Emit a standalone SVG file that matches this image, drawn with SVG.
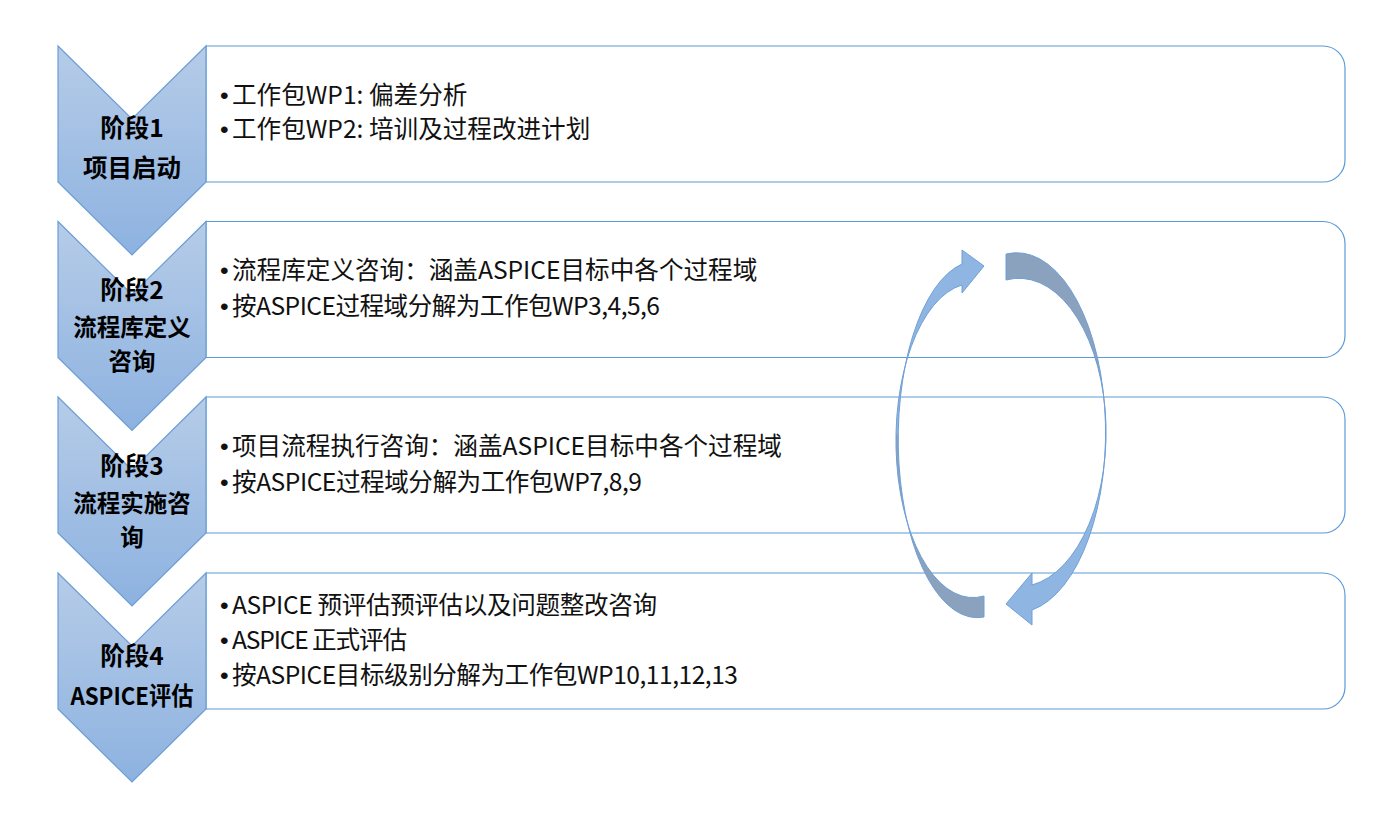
<svg xmlns="http://www.w3.org/2000/svg" width="1387" height="815" viewBox="0 0 1387 815">
  <style>
    .box { fill: #ffffff; stroke: #5b9bd5; stroke-width: 1.2; }
    .chev { fill: url(#chevGrad); stroke: #6a9ed6; stroke-width: 1.2; }
    .title { font-family: "Noto Sans CJK SC", "Noto Sans", sans-serif; font-size: 24.5px; font-weight: bold; fill: #000000; text-anchor: middle; }
    .wrap { font-size: 23.5px; }
    .item { font-family: "Noto Sans CJK SC", "Noto Sans", sans-serif; font-size: 24.6px; fill: #111111; }
    .b { font-family: "Liberation Sans", Arial, sans-serif; font-size: 24.6px; fill: #111111; }
    .arc { stroke: #6f9fd6; stroke-width: 1; }
  </style>
  <defs>
    <linearGradient id="chevGrad" x1="0" y1="0" x2="0" y2="1">
      <stop offset="0" stop-color="#b6cce8"/>
      <stop offset="1" stop-color="#8db2e0"/>
    </linearGradient>
    <linearGradient id="leftArcGrad" gradientUnits="userSpaceOnUse" x1="0" y1="250" x2="0" y2="620">
      <stop offset="0" stop-color="#8fb6e2"/>
      <stop offset="0.5" stop-color="#8fb6e2"/>
      <stop offset="0.5" stop-color="#8aa2bd"/>
      <stop offset="1" stop-color="#8aa2bd"/>
    </linearGradient>
    <linearGradient id="rightArcGrad" gradientUnits="userSpaceOnUse" x1="0" y1="250" x2="0" y2="630">
      <stop offset="0" stop-color="#8aa2bd"/>
      <stop offset="0.5" stop-color="#8aa2bd"/>
      <stop offset="0.5" stop-color="#8fb6e2"/>
      <stop offset="1" stop-color="#8fb6e2"/>
    </linearGradient>
    <path id="boxShape" d="M206,46 H1323 A22,22 0 0 1 1345,68 V160 A22,22 0 0 1 1323,182 H206 Z"/>
    <path id="chevShape" d="M58,46 L132,119 L206,46 L206,182 L132,255 L58,182 Z"/>
  </defs>

  <g id="stage1">
    <use href="#boxShape" class="box"/>
    <use href="#chevShape" class="chev"/>
    <text class="title" x="132" y="137">阶段1</text>
    <text class="title" x="132" y="177">项目启动</text>
    <text class="b" x="220" y="104">•</text>
    <text class="item" x="232" y="104">工作包WP1: 偏差分析</text>
    <text class="b" x="220" y="138">•</text>
    <text class="item" x="232" y="138">工作包WP2: 培训及过程改进计划</text>
  </g>

  <g id="stage2" transform="translate(0,175.5)">
    <use href="#boxShape" class="box"/>
    <use href="#chevShape" class="chev"/>
    <text class="title" x="132" y="123">阶段2</text>
    <text class="title wrap" x="132" y="160">流程库定义</text>
    <text class="title wrap" x="132" y="194">咨询</text>
    <text class="b" x="220" y="103.5">•</text>
    <text class="item" x="232" y="103.5">流程库定义咨询：涵盖ASPICE目标中各个过程域</text>
    <text class="b" x="220" y="139.5">•</text>
    <text class="item" x="232" y="139.5" textLength="428" lengthAdjust="spacing">按ASPICE过程域分解为工作包WP3,4,5,6</text>
  </g>

  <g id="stage3" transform="translate(0,351)">
    <use href="#boxShape" class="box"/>
    <use href="#chevShape" class="chev"/>
    <text class="title" x="132" y="123.5">阶段3</text>
    <text class="title wrap" x="132" y="160.5">流程实施咨</text>
    <text class="title wrap" x="132" y="194.5">询</text>
    <text class="b" x="220" y="104">•</text>
    <text class="item" x="232" y="104">项目流程执行咨询：涵盖ASPICE目标中各个过程域</text>
    <text class="b" x="220" y="140">•</text>
    <text class="item" x="232" y="140" textLength="410" lengthAdjust="spacing">按ASPICE过程域分解为工作包WP7,8,9</text>
  </g>

  <g id="stage4" transform="translate(0,527)">
    <use href="#boxShape" class="box"/>
    <use href="#chevShape" class="chev"/>
    <text class="title" x="132" y="138">阶段4</text>
    <text class="title" x="132" y="178" textLength="123" lengthAdjust="spacingAndGlyphs">ASPICE评估</text>
    <text class="b" x="220" y="87">•</text>
    <text class="item" x="232" y="87" textLength="425" lengthAdjust="spacing">ASPICE 预评估预评估以及问题整改咨询</text>
    <text class="b" x="220" y="122">•</text>
    <text class="item" x="232" y="122" textLength="175" lengthAdjust="spacing">ASPICE 正式评估</text>
    <text class="b" x="220" y="157">•</text>
    <text class="item" x="232" y="157" textLength="506" lengthAdjust="spacing">按ASPICE目标级别分解为工作包WP10,11,12,13</text>
  </g>

  <g id="connectors">
    <path id="arc-left" class="arc" fill="url(#leftArcGrad)"
      d="M984,617 A79,178.5 0 0 1 962,264 L962,250 L984,266 L962,293 L962,285 A77,157 0 0 0 984,596 Z"/>
    <path id="arc-right" class="arc" fill="url(#rightArcGrad)"
      d="M1006,254 A89,180 0 0 1 1032,610 L1032,625 L1006,604 L1032,573 L1032,585 A87,154 0 0 0 1006,280 Z"/>
  </g>
</svg>
